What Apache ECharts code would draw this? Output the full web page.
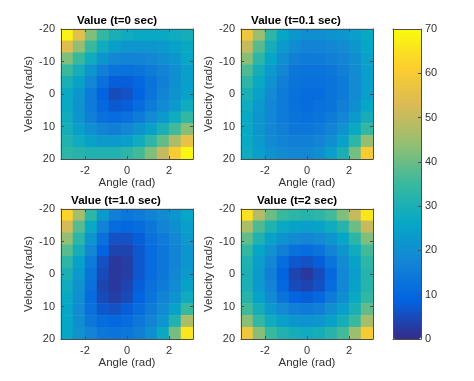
<!DOCTYPE html>
<html><head><meta charset="utf-8">
<script src="https://cdn.jsdelivr.net/npm/echarts@6/dist/echarts.min.js"></script>
<style>html,body{margin:0;padding:0;background:#fff}#c{width:474px;height:381px}</style>
</head><body><div id="c"></div>
<script>
// ---- data ----
const angleCats = ['-2.86','-2.28','-1.71','-1.14','-0.57','0','0.57','1.14','1.71','2.28','2.86'];
const velocityCats = ['-18.2','-14.5','-10.9','-7.3','-3.6','0','3.6','7.3','10.9','14.5','18.2'];
const angleTicks = [-2, 0, 2];
const colorbarTicks = [0, 10, 20, 30, 40, 50, 60, 70];
const titles = ['Value (t=0 sec)', 'Value (t=0.1 sec)', 'Value (t=1.0 sec)', 'Value (t=2 sec)'];

// rows: velocity top (-20) -> bottom (20); cols: angle left -> right
const valueT0 = [
  [68, 55, 42, 34, 30, 28, 27, 27, 27, 28, 29],
  [54, 44, 35, 28, 24, 22, 22, 22, 23, 25, 27],
  [42, 35, 28, 22, 18, 17, 17, 18, 20, 22, 26],
  [35, 29, 22, 16, 13, 12, 13, 15, 17, 20, 24],
  [30, 25, 18, 12,  8,  8, 10, 13, 16, 20, 24],
  [27, 22, 15,  9,  5,  6,  9, 13, 17, 21, 25],
  [27, 21, 15, 10,  7,  8, 11, 15, 19, 23, 28],
  [28, 22, 16, 12, 11, 12, 15, 19, 23, 28, 34],
  [29, 24, 20, 17, 16, 18, 21, 25, 30, 36, 43],
  [31, 28, 25, 23, 23, 24, 28, 33, 39, 47, 56],
  [33, 32, 31, 31, 31, 33, 36, 42, 50, 60, 69]
];
const valueT01 = [
  [58, 45, 33, 26, 22, 20, 20, 21, 22, 24, 27],
  [50, 38, 29, 23, 19, 17, 17, 18, 19, 22, 26],
  [43, 33, 26, 20, 16, 15, 15, 16, 17, 20, 25],
  [37, 29, 23, 18, 14, 13, 13, 14, 16, 19, 24],
  [33, 27, 21, 16, 13, 12, 12, 13, 15, 19, 24],
  [30, 25, 19, 15, 12, 11, 11, 13, 15, 19, 24],
  [28, 23, 18, 15, 12, 11, 12, 13, 16, 20, 26],
  [27, 22, 18, 15, 13, 12, 13, 15, 18, 23, 29],
  [27, 22, 18, 16, 14, 14, 15, 17, 21, 27, 34],
  [27, 23, 19, 17, 16, 16, 17, 20, 25, 33, 44],
  [28, 24, 21, 19, 18, 18, 20, 24, 30, 41, 60]
];
const valueT1 = [
  [62, 46, 33, 23, 16, 14, 15, 17, 19, 22, 26],
  [52, 38, 27, 17, 11, 10, 11, 14, 17, 20, 24],
  [44, 33, 22, 12,  6,  6,  8, 12, 15, 18, 23],
  [38, 29, 18,  9,  4,  4,  7, 11, 14, 17, 22],
  [33, 25, 15,  6,  2,  3,  7, 11, 14, 17, 22],
  [30, 23, 13,  5,  2,  3,  7, 11, 14, 18, 23],
  [28, 21, 12,  4,  2,  4,  8, 12, 15, 19, 25],
  [27, 20, 11,  5,  3,  5,  9, 13, 17, 21, 28],
  [26, 19, 12,  7,  6,  8, 11, 15, 19, 25, 35],
  [26, 20, 14, 11, 10, 11, 14, 17, 22, 31, 47],
  [26, 21, 17, 14, 13, 14, 16, 20, 27, 41, 66]
];
const valueT2 = [
  [65, 48, 40, 35, 33, 32, 33, 36, 42, 50, 66],
  [47, 37, 31, 27, 25, 24, 25, 28, 32, 40, 50],
  [39, 31, 25, 21, 19, 18, 19, 22, 26, 33, 42],
  [34, 26, 21, 16, 12, 11, 13, 17, 22, 28, 36],
  [31, 24, 18, 11,  7,  6,  8, 13, 19, 25, 33],
  [30, 23, 16,  9,  4,  2,  5, 10, 18, 24, 32],
  [30, 23, 17, 10,  5,  4,  6, 11, 18, 25, 32],
  [32, 25, 19, 13,  9,  8, 10, 15, 20, 27, 34],
  [36, 29, 23, 19, 16, 15, 16, 20, 24, 30, 39],
  [43, 34, 28, 24, 22, 21, 22, 25, 29, 35, 46],
  [58, 43, 35, 31, 29, 28, 29, 32, 36, 45, 60]
];
const panels = [valueT0, valueT01, valueT1, valueT2];

// ---- layout / style ----
const parula = ['#352a87','#0363e1','#1485d4','#06a7c6','#38b99e','#92bf73','#d9ba56','#fcce2e','#f9fb0e'];
const FONT = 'Liberation Sans, Arial, Helvetica, sans-serif';
const AX = '#4d4d4d';
const TXT = '#333333';
const gridPos = [
  {left: 61, top: 29}, {left: 241, top: 29},
  {left: 61, top: 209}, {left: 241, top: 209}
];
const titlePos = [[117, 21], [296, 21], [116, 201], [297, 201]];

const grids = [], xAxes = [], yAxes = [], series = [], graphics = [];
const lineStyle = {color: AX, width: 1};
const frameLine = {show: true, onZero: false, lineStyle};
gridPos.forEach((g, p) => {
  grids.push({left: g.left, top: g.top, width: 132, height: 130, containLabel: false});
  const xc = xAxes.length;
  xAxes.push({gridIndex: p, type: 'category', data: angleCats, show: false, boundaryGap: true});
  xAxes.push({gridIndex: p, type: 'value', min: -Math.PI, max: Math.PI, position: 'bottom', z: 5,
    axisLine: frameLine, splitLine: {show: false},
    axisTick: {show: true, inside: true, length: 3, customValues: angleTicks, lineStyle},
    axisLabel: {customValues: angleTicks, fontSize: 11, color: TXT, fontFamily: FONT, margin: 6},
    name: 'Angle (rad)', nameLocation: 'middle', nameGap: 18,
    nameTextStyle: {fontSize: 11.5, color: TXT, fontFamily: FONT}});
  xAxes.push({gridIndex: p, type: 'value', min: -Math.PI, max: Math.PI, position: 'top', z: 5,
    axisLine: frameLine, splitLine: {show: false},
    axisTick: {show: true, inside: true, length: 3, customValues: angleTicks, lineStyle},
    axisLabel: {show: false}});
  const yc = yAxes.length;
  yAxes.push({gridIndex: p, type: 'category', data: velocityCats, inverse: true, show: false, boundaryGap: true});
  yAxes.push({gridIndex: p, type: 'value', min: -20, max: 20, interval: 10, inverse: true, position: 'left', z: 5,
    axisLine: frameLine, splitLine: {show: false},
    axisTick: {show: true, inside: true, length: 3, lineStyle},
    axisLabel: {fontSize: 11, color: TXT, fontFamily: FONT, margin: 6},
    name: 'Velocity (rad/s)', nameLocation: 'middle', nameGap: 22,
    nameTextStyle: {fontSize: 11.5, color: TXT, fontFamily: FONT}});
  yAxes.push({gridIndex: p, type: 'value', min: -20, max: 20, interval: 10, inverse: true, position: 'right', z: 5,
    axisLine: frameLine, splitLine: {show: false},
    axisTick: {show: true, inside: true, length: 3, lineStyle},
    axisLabel: {show: false}});
  const data = [];
  panels[p].forEach((row, r) => row.forEach((v, c) => data.push([c, r, v])));
  series.push({type: 'heatmap', xAxisIndex: xc, yAxisIndex: yc, data,
    emphasis: {disabled: true}, itemStyle: {borderWidth: 0}});
  graphics.push({type: 'text', x: titlePos[p][0], y: titlePos[p][1], z: 10,
    style: {text: titles[p], textAlign: 'center', textVerticalAlign: 'middle',
      font: 'bold 11.5px ' + FONT, fill: '#000'}});
});

// colorbar frame + ticks
const cbGrid = grids.length;
grids.push({left: 393, top: 29, width: 28, height: 310});
xAxes.push({gridIndex: cbGrid, type: 'value', min: 0, max: 1, position: 'bottom', z: 5,
  axisLine: frameLine, axisTick: {show: false}, axisLabel: {show: false}, splitLine: {show: false}});
xAxes.push({gridIndex: cbGrid, type: 'value', min: 0, max: 1, position: 'top', z: 5,
  axisLine: frameLine, axisTick: {show: false}, axisLabel: {show: false}, splitLine: {show: false}});
yAxes.push({gridIndex: cbGrid, type: 'value', min: 0, max: 70, position: 'left', z: 5,
  axisLine: frameLine, axisTick: {show: false}, axisLabel: {show: false}, splitLine: {show: false}});
yAxes.push({gridIndex: cbGrid, type: 'value', min: 0, max: 70, interval: 10, position: 'right', z: 5,
  axisLine: frameLine, splitLine: {show: false},
  axisTick: {show: true, inside: true, length: 3, customValues: colorbarTicks, lineStyle},
  axisLabel: {customValues: colorbarTicks, fontSize: 11, color: TXT, fontFamily: FONT, margin: 4}});

const chart = echarts.init(document.getElementById('c'), null, {renderer: 'canvas'});
chart.setOption({
  animation: false,
  backgroundColor: '#fff',
  grid: grids,
  xAxis: xAxes,
  yAxis: yAxes,
  visualMap: {
    type: 'continuous', min: 0, max: 70, seriesIndex: [0, 1, 2, 3],
    calculable: false, show: true, orient: 'vertical',
    left: 393, top: 29, itemWidth: 28, itemHeight: 310, padding: 0,
    text: null, showLabel: false, hoverLink: false,
    inRange: {color: parula}
  },
  series,
  graphic: graphics
});
</script>
</body></html>
